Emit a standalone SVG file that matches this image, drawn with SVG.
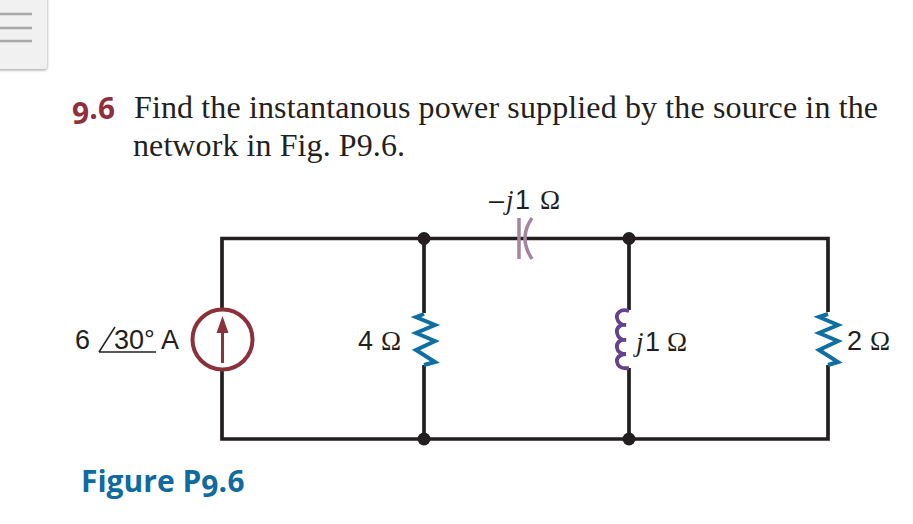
<svg xmlns="http://www.w3.org/2000/svg" width="913" height="524" viewBox="0 0 913 524">
<defs>
<style>
.wire{fill:none;stroke:#231f20;stroke-width:3.7}
.dot{fill:#231f20}
.serif{font-family:"Liberation Serif","Times New Roman",serif;fill:#231f20}
.sans{font-family:"Liberation Sans",Arial,sans-serif;fill:#231f20}
.lbl{font-size:27px}
.res{fill:none;stroke:#0f6fa3;stroke-width:4;stroke-linejoin:miter}
.head{font-family:"Open Sans","Noto Sans",sans-serif;font-weight:700;font-variant-numeric:oldstyle-nums;font-feature-settings:"onum" 1}
</style>
<filter id="sh" x="-20%" y="-20%" width="140%" height="140%"><feDropShadow dx="0.5" dy="1.5" stdDeviation="1.2" flood-color="#000" flood-opacity="0.3"/></filter>
</defs>
<rect width="913" height="524" fill="#ffffff"/>
<g id="menu">
<rect x="-10" y="-10" width="57" height="79" rx="4" fill="#f1f1f1" filter="url(#sh)"/>
<path d="M0 14H32M0 28H32M0 41H32" stroke="#a9a9a9" stroke-width="2.4" fill="none"/>
</g>
<g id="problem">
<text class="head" x="72" y="119" font-size="30" style="fill:#8f2f3b">9.6</text>
<text class="serif" x="134" y="118" font-size="32" textLength="744" lengthAdjust="spacing">Find the instantanous power supplied by the source in the</text>
<text class="serif" x="133" y="156" font-size="32" textLength="272" lengthAdjust="spacing">network in Fig. P9.6.</text>
</g>
<g id="connectors">
<path class="wire" d="M222 308V238.500H828V312M828 365V439H222V371"/>
<path class="wire" d="M424 238.500V313M424 365V439M629 238.500V310M629 368V439"/>
</g>
<g id="n1"><circle class="dot" cx="424" cy="238.500" r="6.500"/></g>
<g id="n2"><circle class="dot" cx="629" cy="238.500" r="6.500"/></g>
<g id="n3"><circle class="dot" cx="424" cy="439" r="6.500"/></g>
<g id="n4"><circle class="dot" cx="629" cy="439" r="6.500"/></g>
<g id="source">
<circle cx="222.500" cy="339.500" r="30" fill="#fff" stroke="#8a323c" stroke-width="4"/>
<path d="M222.500 363V330" stroke="#8a323c" stroke-width="3" fill="none"/>
<polygon points="222.500,316 216.500,333 228.500,333" fill="#8a323c"/>
<text class="sans lbl" x="75" y="349">6</text>
<path d="M99 352L115 327M99 352H156" stroke="#231f20" stroke-width="1.500" fill="none"/>
<text class="sans lbl" x="114" y="349">30°</text>
<text class="sans lbl" x="161" y="349">A</text>
</g>
<g id="r4">
<path class="res" d="M424 314L416 317L435 325L416 333L435 341L416 350L435 362L424 365"/>
<text class="sans lbl" x="358" y="350">4</text>
<text class="serif lbl" x="381" y="350">Ω</text>
</g>
<g id="cap">
<path d="M519 218V259" stroke="#a3859f" stroke-width="3.500" fill="none"/>
<path d="M532 218Q518 238 532 259" stroke="#a3859f" stroke-width="3.500" fill="none"/>
<text x="489" y="209" class="sans lbl">–</text>
<text x="506" y="209" class="serif lbl" font-style="italic">j</text>
<text x="515" y="209" class="sans lbl">1</text>
<text x="540" y="209" class="serif lbl">Ω</text>
</g>
<g id="ind">
<path d="M629 311C620 308 616 314 617 318C618 323 622 325 626 325C620 324 616 328 617 333C618 338 622 340 626 340C620 339 616 343 617 348C618 353 622 354 626 354C620 354 616 358 617 362C618 367 622 369 629 368" fill="none" stroke="#63428f" stroke-width="3.800"/>
<text x="636" y="351" class="serif lbl" font-style="italic">j</text>
<text x="645" y="351" class="sans lbl">1</text>
<text x="667" y="351" class="serif lbl">Ω</text>
</g>
<g id="r2">
<path class="res" d="M828 314L819 317L838 325L819 333L838 341L819 350L838 362L828 365"/>
<text class="sans lbl" x="847" y="350">2</text>
<text class="serif lbl" x="870" y="350">Ω</text>
</g>
<text id="caption" class="head" x="81" y="492" font-size="30" style="fill:#0f6aa0">Figure P9.6</text>
</svg>
